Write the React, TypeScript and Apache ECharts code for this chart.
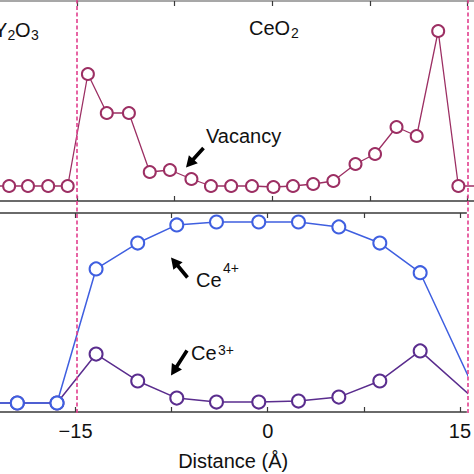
import React, { useEffect, useRef } from "react";
import * as echarts from "echarts";

const FONT = "'Liberation Sans', Arial, Helvetica, sans-serif";

// Top panel: vacancy profile
const vacancyX = [-21.8, -20.2, -18.75, -17.2, -15.7, -14.15, -12.7, -11.0, -9.4, -7.85, -6.2, -4.7, -3.15, -1.55, 0.1, 1.6, 3.15, 4.7, 6.4, 7.9, 9.55, 11.1, 12.75, 14.3, 15.85];
const vacancyY = [0.075, 0.075, 0.075, 0.075, 0.075, 0.635, 0.44, 0.44, 0.145, 0.155, 0.11, 0.075, 0.075, 0.075, 0.07, 0.075, 0.085, 0.1, 0.185, 0.235, 0.37, 0.325, 0.85, 0.075, 0.075];

// Bottom panel: Ce4+ / Ce3+ profiles
const ceX = [-22.6, -19.55, -16.45, -13.4, -10.15, -7.1, -4.0, -0.7, 2.4, 5.55, 8.75, 11.9, 16.3];
const ce4Y = [0.045, 0.045, 0.045, 0.719, 0.849, 0.94, 0.955, 0.955, 0.955, 0.93, 0.849, 0.7, 0.09];
const ce3Y = [0.045, 0.045, 0.045, 0.291, 0.156, 0.07, 0.05, 0.05, 0.055, 0.075, 0.156, 0.307, 0.055];

const interfaces = [-15, 15];
const tickValues = [-15, -7.5, 0, 7.5, 15];
const labelValues = [-15, 0, 15];

const X_MIN = -20.9;
const X_MAX = 15.5;

const COL_VAC = "#9c2f63";
const COL_CE4 = "#3f5fe0";
const COL_CE3 = "#5a2d8e";
const COL_DASH = "#e23f8e";
const COL_AXIS = "#3a3a3a";

function arrow(tail: [number, number], tip: [number, number], shaftW = 3.6, headL = 11, headW = 12) {
  const dx = tip[0] - tail[0];
  const dy = tip[1] - tail[1];
  const len = Math.hypot(dx, dy);
  const ux = dx / len, uy = dy / len;
  const px = -uy, py = ux;
  const bx = tip[0] - ux * headL, by = tip[1] - uy * headL;
  const pts: number[][] = [
    [tail[0] + px * shaftW / 2, tail[1] + py * shaftW / 2],
    [bx + px * shaftW / 2, by + py * shaftW / 2],
    [bx + px * headW / 2, by + py * headW / 2],
    [tip[0], tip[1]],
    [bx - px * headW / 2, by - py * headW / 2],
    [bx - px * shaftW / 2, by - py * shaftW / 2],
    [tail[0] - px * shaftW / 2, tail[1] - py * shaftW / 2],
  ];
  return { type: "polygon", shape: { points: pts }, style: { fill: "#000" }, silent: true };
}

function txt(text: string, x: number, y: number, size = 20) {
  return {
    type: "text",
    x,
    y,
    silent: true,
    style: { text, fontFamily: FONT, fontSize: size, fill: "#111", align: "left", verticalAlign: "middle" },
  };
}

function lineSeries(name: string, xIdx: number, yIdx: number, xs: number[], ys: number[], color: string, size: number, width: number) {
  return {
    name,
    type: "line",
    xAxisIndex: xIdx,
    yAxisIndex: yIdx,
    data: xs.map((x, i) => [x, ys[i]]),
    symbol: "emptyCircle",
    symbolSize: size,
    showSymbol: true,
    showAllSymbol: true,
    lineStyle: { color, width },
    itemStyle: { color, borderWidth: 2 },
    clip: true,
  };
}

export default function App() {
  const ref = useRef<HTMLDivElement>(null);
  useEffect(() => {
    if (!ref.current) return;
    const chart = echarts.init(ref.current, null, { renderer: "svg" });
    const fmt = (v: number) => (v < 0 ? "\u2212" + Math.abs(v) : String(v));
    const baseX = (grid: number, position: "top" | "bottom", labels: boolean, topColor?: string) => ({
      type: "value",
      gridIndex: grid,
      position,
      min: X_MIN,
      max: X_MAX,
      axisLine: { show: true, onZero: false, lineStyle: { color: topColor || COL_AXIS, width: 1.5 } },
      axisTick: { show: true, inside: true, length: 5, customValues: tickValues, lineStyle: { color: COL_AXIS, width: 1.2 } },
      axisLabel: labels
        ? { show: true, customValues: labelValues, formatter: fmt, fontFamily: FONT, fontSize: 20, color: "#111", margin: 9 }
        : { show: false },
      splitLine: { show: false },
      ...(labels
        ? {
            name: "Distance (\u00c5)",
            nameLocation: "middle",
            nameGap: 39,
            nameTextStyle: { fontFamily: FONT, fontSize: 20, color: "#111" },
          }
        : {}),
    });
    const yAx = (grid: number, max = 1) => ({ type: "value", gridIndex: grid, min: 0, max, show: false });

    const option: any = {
      animation: false,
      backgroundColor: "#ffffff",
      grid: [
        { left: 0, right: 0, top: 1, height: 200 },
        { left: 0, right: 0, top: 213, height: 199 },
        { left: 0, right: 0, top: 0, height: 413 },
      ],
      xAxis: [
        baseX(0, "bottom", false),
        baseX(0, "top", false, "#8a8a8a"),
        baseX(1, "bottom", true),
        baseX(1, "top", false),
        { type: "value", gridIndex: 2, min: X_MIN, max: X_MAX, show: false },
      ],
      yAxis: [yAx(0), yAx(1), yAx(2)],
      series: [
        lineSeries("Vacancy", 0, 0, vacancyX, vacancyY, COL_VAC, 12, 1.3),
        lineSeries("Ce3+", 2, 1, ceX, ce3Y, COL_CE3, 13, 1.5),
        lineSeries("Ce4+", 2, 1, ceX, ce4Y, COL_CE4, 13, 1.5),
        {
          name: "interfaces",
          type: "line",
          xAxisIndex: 4,
          yAxisIndex: 2,
          data: [[0, -1]],
          showSymbol: false,
          lineStyle: { width: 0 },
          silent: true,
          z: 10,
          markLine: {
            silent: true,
            symbol: ["none", "none"],
            label: { show: false },
            lineStyle: { color: COL_DASH, width: 1.6, type: [4, 2.5] },
            data: interfaces.map((v) => ({ xAxis: v })),
          },
        },
      ],
      graphic: [
        // region labels
        txt("Y", -6, 30),
        txt("2", 7.5, 35, 14),
        txt("O", 15, 30),
        txt("3", 31, 35, 14),
        txt("CeO", 249, 28),
        txt("2", 291, 33, 14),
        // annotations
        txt("Vacancy", 206, 136),
        arrow([203.5, 148], [186, 167.5]),
        txt("Ce", 196, 280),
        txt("4+", 223, 268, 14),
        arrow([187.5, 277.5], [171, 257.5]),
        txt("Ce", 191, 353),
        txt("3+", 218, 350, 14),
        arrow([187, 350.5], [171, 375.5]),
      ],
    };
    chart.setOption(option);
    return () => chart.dispose();
  }, []);
  return <div ref={ref} style={{ position: "fixed", left: 0, top: 0, width: 474, height: 474, background: "#fff" }} />;
}
